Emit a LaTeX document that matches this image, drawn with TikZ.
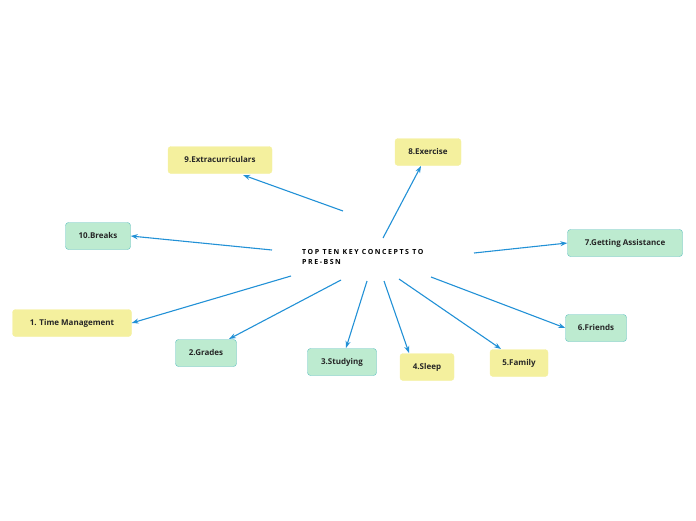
\documentclass[tikz,border=0pt]{standalone}
\usepackage{fontspec}
\setmainfont{Open Sans}
\usetikzlibrary{arrows.meta}
\definecolor{yel}{HTML}{F4F09E}
\definecolor{grn}{HTML}{BDEBD0}
\definecolor{grnb}{HTML}{5FBFC0}
\definecolor{yelb}{HTML}{F4F09E}
\definecolor{arr}{HTML}{2291D6}
\tikzset{
 box/.style={rectangle,rounded corners=3pt,font=\fontsize{8}{9}\selectfont\bfseries,inner sep=0pt,minimum height=27pt,text=black!85},
 ybox/.style={box,fill=yel,draw=yelb},
 gbox/.style={box,fill=grn,draw=grnb},
 con/.style={draw=arr,line width=1.1pt,-{Stealth[length=7pt,width=5pt]}}
}
\begin{document}
\begin{tikzpicture}[x=1pt,y=-1pt]
\useasboundingbox (0,0) rectangle (696,520);
\node[font=\fontsize{7}{10}\selectfont\bfseries\addfontfeatures{LetterSpace=22},align=left,anchor=north west,inner sep=0pt] (c) at (302,249) {TOP TEN KEY CONCEPTS TO\\PRE-BSN};
\node[ybox,minimum width=104pt] (n9) at (220,160) {9.Extracurriculars};
\node[ybox,minimum width=66pt] (n8) at (428,152) {8.Exercise};
\node[gbox,minimum width=65pt] (n10) at (98,236) {10.Breaks};
\node[gbox,minimum width=115pt] (n7) at (625,243) {7.Getting Assistance};
\node[ybox,minimum width=119pt] (n1) at (72,323) {1. Time Management};
\node[gbox,minimum width=61pt] (n2) at (206,353) {2.Grades};
\node[gbox,minimum width=69pt] (n3) at (342,362) {3.Studying};
\node[ybox,minimum width=54pt] (n4) at (427,367) {4.Sleep};
\node[ybox,minimum width=58pt] (n5) at (519,363) {5.Family};
\node[gbox,minimum width=61pt] (n6) at (596,328) {6.Friends};
\coordinate (s9) at (343,211); \coordinate (s8) at (383,238);
\coordinate (s10) at (272,250); \coordinate (s7) at (474,253);
\coordinate (s1) at (291,276); \coordinate (s2) at (341,280);
\coordinate (s3) at (367,281); \coordinate (s4) at (384,281);
\coordinate (s5) at (399,279); \coordinate (s6) at (431,277);
\draw[con] (s9) -- (243,175);
\draw[con] (s8) -- (421,166);
\draw[con] (s10) -- (n10.east);
\draw[con] (s7) -- (n7.west);
\draw[con] (s1) -- (n1.east);
\draw[con] (s2) -- (229,339);
\draw[con] (s3) -- (346,348);
\draw[con] (s4) -- (409,353);
\draw[con] (s5) -- (501,349);
\draw[con] (s6) -- (n6.west);
\end{tikzpicture}
\end{document}
